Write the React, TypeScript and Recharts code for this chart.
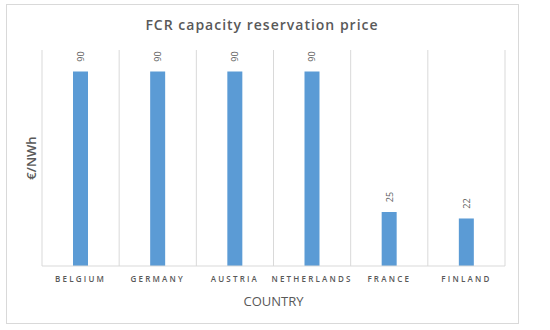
import React from 'react';
import { BarChart, Bar, XAxis, YAxis, CartesianGrid, LabelList } from 'recharts';

const countries = ['BELGIUM', 'GERMANY', 'AUSTRIA', 'NETHERLANDS', 'FRANCE', 'FINLAND'];
const prices = [90, 90, 90, 90, 25, 22];
const yDomain = [0, 100];

const data = countries.map((country, i) => ({ country, price: prices[i] }));

const GRAY = '#595959';

const BarValue = (props: any) => {
  const { x, y, width, value } = props;
  const cx = Number(x) + Number(width) / 2;
  const cy = Number(y) - 15;
  return (
    <text
      x={cx}
      y={cy}
      transform={`rotate(-90 ${cx} ${cy})`}
      textAnchor="middle"
      dominantBaseline="central"
      fontSize={9}
      fill={GRAY}
      fontFamily="Open Sans"
    >
      {value}
    </text>
  );
};

const App: React.FC = () => {
  // vertical lines at category edges, like excel
  const edges = ({ offset }: any) => {
    const step = offset.width / countries.length;
    return countries.map((_, i) => offset.left + i * step).concat(offset.left + offset.width);
  };

  return (
    <div style={{ position: 'absolute', left: 0, top: 0, width: 550, height: 330, background: '#fff', fontFamily: 'Open Sans' }}>
      <div
        style={{
          position: 'absolute',
          left: 6,
          top: 4,
          width: 511,
          height: 318,
          border: '1px solid #d9d9d9',
        }}
      />
      <div
        style={{
          position: 'absolute',
          left: 0,
          top: 15,
          width: 524,
          textAlign: 'center',
          fontSize: 14,
          fontWeight: 600,
          letterSpacing: 1,
          color: GRAY,
        }}
      >
        FCR capacity reservation price
      </div>
      <BarChart
        width={550}
        height={330}
        data={data}
        margin={{ top: 50, right: 45, bottom: 20, left: 20 }}
        style={{ position: 'absolute', left: 0, top: 0 }}
      >
        <CartesianGrid horizontal={false} stroke="#d9d9d9" verticalCoordinatesGenerator={edges} />
        <YAxis
          domain={yDomain}
          width={22}
          tick={false}
          axisLine={false}
          tickLine={false}
          label={{ value: '€/NWh', angle: -90, position: 'center', fill: GRAY, fontSize: 13, fontWeight: 600 }}
        />
        <XAxis
          dataKey="country"
          height={44}
          axisLine={{ stroke: '#d9d9d9' }}
          tickLine={false}
          tickMargin={4}
          interval={0}
          tick={{ fontSize: 8, fontWeight: 600, letterSpacing: 2.2, fill: GRAY }}
          label={{ value: 'COUNTRY', position: 'insideBottom', offset: 4, fill: GRAY, fontSize: 13 }}
        />
        <Bar dataKey="price" fill="#5b9bd5" barSize={15} isAnimationActive={false}>
          <LabelList dataKey="price" content={BarValue} />
        </Bar>
      </BarChart>
    </div>
  );
};

export default App;
